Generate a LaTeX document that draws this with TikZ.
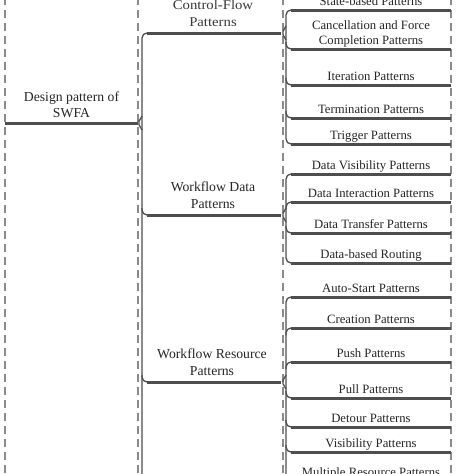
\documentclass[tikz,border=0pt]{standalone}
\usepackage{fontspec}
\setmainfont{Liberation Serif}
\newfontfamily\cffont[FakeStretch=1.1]{Liberation Serif}
\usetikzlibrary{calc}
\definecolor{linecol}{HTML}{4E4E4E}
\definecolor{dashcol}{HTML}{8A8A8A}
\definecolor{txtcol}{HTML}{262626}
\newcommand\twoline[3]{\vbox{\baselineskip=#1\relax\halign{\hfil##\hfil\cr #2\cr #3\cr}}}
\begin{document}
\begin{tikzpicture}[x=1pt,y=-1pt,
  barline/.style={line width=3pt, draw=linecol},
  trunk/.style={line width=1.3pt, draw=linecol},
  guide/.style={draw=dashcol, line width=1.2pt, dash pattern=on 8pt off 5pt},
  leaftext/.style={font=\fontsize{12.7}{15}\selectfont, text=txtcol, inner sep=0pt, anchor=base},
  midtext/.style={font=\fontsize{13.7}{17}\selectfont, text=txtcol, inner sep=0pt, anchor=base},
]
\useasboundingbox (0,0) rectangle (474,474);
\clip (0,0) rectangle (474,474);
\fill[white] (0,0) rectangle (474,474);

% dashed guide lines
\foreach \n/\x in {g1/5, g2/138, g3/283, g4/451} {
  \coordinate (\n-top) at (\x,-3);
  \coordinate (\n-bot) at (\x,480);
  \draw[guide] (\n-top) -- (\n-bot);
}

% root
\coordinate (r-start) at (5,123);
\coordinate (r-end) at (138,123);
\draw[barline] (r-start) -- (r-end);
\node[midtext] (root) at (71.5,117.5) {\twoline{16pt}{Design pattern of}{SWFA}};

% main trunk
\coordinate (m-cf) at (142,33);
\coordinate (m-root) at (142,123);
\coordinate (m-wd) at (142,215);
\coordinate (m-wr) at (142,382);
\coordinate (m-end) at (142,490);
\coordinate (s-cf) at (147,33);
\coordinate (s-wd) at (147,215);
\coordinate (s-wr) at (147,382);
\coordinate (e-cf) at (281,33);
\coordinate (e-wd) at (281,215);
\coordinate (e-wr) at (281,382);
\draw[trunk, rounded corners=5pt] (s-cf) -- (m-cf) -- (m-end);
\draw[trunk, rounded corners=5pt] ($(m-wd)+(0,-7)$) -- (m-wd) -- (s-wd);
\draw[trunk, rounded corners=5pt] ($(m-wr)+(0,-7)$) -- (m-wr) -- (s-wr);
\draw[trunk, rounded corners=2pt] ($(m-root)+(0,-7)$) -- (r-end) -- ($(m-root)+(0,7)$);

\draw[barline] (s-cf) -- (e-cf);
\draw[barline] (s-wd) -- (e-wd);
\draw[barline] (s-wr) -- (e-wr);
\node[midtext, font=\cffont\fontsize{13.4}{17}\selectfont, text=black!78] (cf) at (213,26.5) {\twoline{17pt}{Control-Flow}{Patterns}};
\node[midtext] (wd) at (213,208.7) {\twoline{17pt}{Workflow Data}{Patterns}};
\node[midtext] (wr) at (212,375.5) {\twoline{17pt}{Workflow Resource}{Patterns}};

% leaves
\foreach \n/\y/\t in {
  cfa/10/{State-based Patterns},
  cfb/49/{\twoline{15pt}{Cancellation and Force}{Completion Patterns}},
  cfc/85/{Iteration Patterns},
  cfd/118/{Termination Patterns},
  cfe/144/{Trigger Patterns},
  wda/174/{Data Visibility Patterns},
  wdb/202/{Data Interaction Patterns},
  wdc/233/{Data Transfer Patterns},
  wdd/263/{Data-based Routing},
  wra/297/{Auto-Start Patterns},
  wrb/328/{Creation Patterns},
  wrc/362/{Push Patterns},
  wrd/398/{Pull Patterns},
  wre/427/{Detour Patterns},
  wrf/452/{Visibility Patterns},
  wrg/481/{Multiple Resource Patterns}} {
  \coordinate (c-\n) at (286,\y);
  \coordinate (a-\n) at (291,\y);
  \coordinate (b-\n) at (451,\y);
  \draw[barline] (a-\n) -- (b-\n);
  \node[leaftext] (t-\n) at (371,\y-4.8) {\t};
}

% brace points
\coordinate (p-cf) at (282,33);
\coordinate (p-wd) at (282,215);
\coordinate (p-wr) at (282,382);
\foreach \p in {cf,wd,wr} {
  \draw[trunk, rounded corners=2pt] ($(p-\p)+(4,-7)$) -- (p-\p) -- ($(p-\p)+(4,7)$);
}

% sub trunks
\coordinate (w-end) at (286,500);
\draw[trunk, rounded corners=5pt] (a-cfa) -- (c-cfa) -- (c-cfe) -- (a-cfe);
\draw[trunk, rounded corners=5pt] (a-wda) -- (c-wda) -- (c-wdd) -- (a-wdd);
\draw[trunk, rounded corners=5pt] (a-wra) -- (c-wra) -- (w-end);
\foreach \n in {cfb,cfc,cfd,wdc,wrd,wre,wrf,wrg} {
  \draw[trunk, rounded corners=5pt] ($(c-\n)+(0,-7)$) -- (c-\n) -- (a-\n);
}
\foreach \n in {wdb,wrb,wrc} {
  \draw[trunk, rounded corners=5pt] ($(c-\n)+(0,7)$) -- (c-\n) -- (a-\n);
}
\end{tikzpicture}
\end{document}
